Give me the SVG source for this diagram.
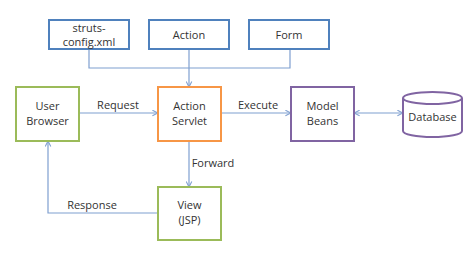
<svg xmlns="http://www.w3.org/2000/svg" width="474" height="259" viewBox="0 0 474 259">
<defs>
<style>
.t{font-family:"Open Sans","Liberation Sans",sans-serif;font-size:11px;fill:#333;text-anchor:middle}
.blue{fill:#fff;stroke:#4F81BD;stroke-width:2}
.green{fill:#fff;stroke:#9BBB59;stroke-width:2}
.orange{fill:#fff;stroke:#F79646;stroke-width:2}
.purple{fill:#fff;stroke:#8064A2;stroke-width:2}
.c{fill:none;stroke:#7F9FD0;stroke-width:1.2}
</style>
<marker id="a" viewBox="0 0 10 10" refX="9" refY="5" markerWidth="7" markerHeight="7" orient="auto-start-reverse" markerUnits="userSpaceOnUse">
<path d="M1,1 L9,5 L1,9" fill="none" stroke="#7F9FD0" stroke-width="1.5"/>
</marker>
</defs>
<rect width="474" height="259" fill="#fff"/>
<g id="connectors">
<path class="c" d="M89,49 V68 H290 V49"/>
<path class="c" d="M189,49 V87" marker-end="url(#a)"/>
<path class="c" d="M79,113 H158" marker-end="url(#a)"/>
<path class="c" d="M221,113 H291" marker-end="url(#a)"/>
<path class="c" d="M354,113 H403" marker-start="url(#a)" marker-end="url(#a)"/>
<path class="c" d="M189,141 V187" marker-end="url(#a)"/>
<path class="c" d="M158,213 H48 V141" marker-end="url(#a)"/>
<text class="t" x="118" y="109">Request</text>
<text class="t" x="258" y="109">Execute</text>
<text class="t" x="213" y="167">Forward</text>
<text class="t" x="92" y="209">Response</text>
</g>
<g id="struts-config">
<rect class="blue" x="49" y="20" width="80" height="29"/>
<text class="t" x="89" y="32">struts-</text>
<text class="t" x="89" y="46">config.xml</text>
</g>
<g id="action">
<rect class="blue" x="149" y="20" width="80" height="29"/>
<text class="t" x="189" y="39">Action</text>
</g>
<g id="form">
<rect class="blue" x="249" y="20" width="80" height="29"/>
<text class="t" x="289" y="39">Form</text>
</g>
<g id="user-browser">
<rect class="green" x="16" y="87" width="63" height="54"/>
<text class="t" x="47.5" y="110">User</text>
<text class="t" x="47.5" y="125">Browser</text>
</g>
<g id="action-servlet">
<rect class="orange" x="158" y="87" width="63" height="54"/>
<text class="t" x="189.5" y="110">Action</text>
<text class="t" x="189.5" y="125">Servlet</text>
</g>
<g id="model-beans">
<rect class="purple" x="291" y="87" width="63" height="54"/>
<text class="t" x="322.5" y="110">Model</text>
<text class="t" x="322.5" y="125">Beans</text>
</g>
<g id="database">
<path class="purple" d="M403,98 V131 A29.5,6 0 0 0 462,131 V98 A29.5,6 0 0 0 403,98 A29.5,6 0 0 0 462,98"/>
<text class="t" x="432.5" y="121">Database</text>
</g>
<g id="view">
<rect class="green" x="158" y="187" width="63" height="53"/>
<text class="t" x="189.5" y="209">View</text>
<text class="t" x="189.5" y="224">(JSP)</text>
</g>
</svg>
